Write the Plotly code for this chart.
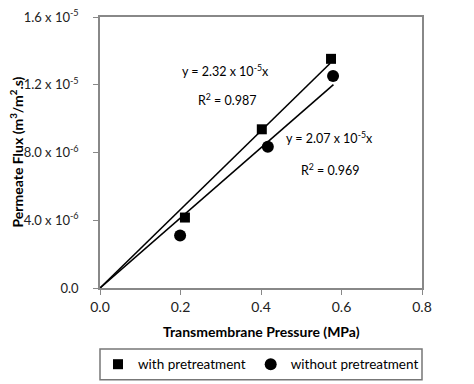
import plotly.graph_objects as go

# Data
with_x = [0.211, 0.402, 0.574]
with_y = [4.16e-6, 9.37e-6, 13.53e-6]
without_x = [0.199, 0.417, 0.579]
without_y = [3.10e-6, 8.34e-6, 12.51e-6]

slope_with = 2.32e-5
slope_without = 2.07e-5
fit_with_x = [0.0, 0.572]
fit_without_x = [0.0, 0.580]

x_ticks = [0.0, 0.2, 0.4, 0.6, 0.8]
x_ticktext = ["0.0", "0.2", "0.4", "0.6", "0.8"]
y_ticks = [0.0, 4.0e-6, 8.0e-6, 1.2e-5, 1.6e-5]
y_ticktext = ["0.0", "4.0 x 10<sup>-6</sup>", "8.0 x 10<sup>-6</sup>",
              "1.2 x 10<sup>-5</sup>", "1.6 x 10<sup>-5</sup>"]

FONT = "Lato, 'Open Sans', sans-serif"

fig = go.Figure()

fig.add_trace(go.Scatter(
    x=fit_with_x, y=[slope_with * v for v in fit_with_x], mode="lines",
    line=dict(color="black", width=1.6), showlegend=False, hoverinfo="skip"))
fig.add_trace(go.Scatter(
    x=fit_without_x, y=[slope_without * v for v in fit_without_x], mode="lines",
    line=dict(color="black", width=1.6), showlegend=False, hoverinfo="skip"))

fig.add_trace(go.Scatter(
    x=with_x, y=with_y, mode="markers", name="with pretreatment",
    marker=dict(symbol="square", size=10, color="black")))
fig.add_trace(go.Scatter(
    x=without_x, y=without_y, mode="markers", name="without pretreatment",
    marker=dict(symbol="circle", size=12, color="black")))

ann_font = dict(family=FONT, size=12.5, color="black")
fig.add_annotation(x=0.313, y=12.86e-6, text="y = 2.32 x 10<sup>-5</sup>x",
                   showarrow=False, font=ann_font)
fig.add_annotation(x=0.316, y=11.1e-6, text="R<sup>2</sup> = 0.987",
                   showarrow=False, font=ann_font)
fig.add_annotation(x=0.570, y=8.86e-6, text="y = 2.07 x 10<sup>-5</sup>x",
                   showarrow=False, font=ann_font)
fig.add_annotation(x=0.572, y=6.97e-6, text="R<sup>2</sup> = 0.969",
                   showarrow=False, font=ann_font)

# axis titles
title_font = dict(family=FONT, size=14, color="black")
fig.add_annotation(xref="paper", yref="paper", x=0.5, y=0, yanchor="middle",
                   yshift=-43, showarrow=False, font=title_font,
                   text="<b>Transmembrane Pressure (MPa)</b>")
fig.add_annotation(xref="paper", yref="paper", x=0, y=0.5, xanchor="center",
                   xshift=-83, textangle=-90, showarrow=False, font=title_font,
                   text="<b>Permeate Flux (m<sup>3</sup>/m<sup>2</sup>.s)</b>")

# legend frame spanning the plot width
fig.add_shape(type="rect", xref="paper", yref="paper",
              x0=0, x1=1, y0=-0.339, y1=-0.225,
              line=dict(color="#777777", width=1.5), fillcolor="rgba(0,0,0,0)")

fig.update_xaxes(
    range=[0, 0.8], tickvals=x_ticks, ticktext=x_ticktext,
    showgrid=False, zeroline=False, showline=True, linecolor="#888888",
    linewidth=1.5, mirror=True, ticks="outside", ticklen=5, tickcolor="#888888",
    ticklabeloverflow="allow",
    tickfont=dict(family=FONT, size=14, color="#222"))
fig.update_yaxes(
    range=[0, 1.6e-5], tickvals=y_ticks, ticktext=y_ticktext,
    showgrid=False, zeroline=False, showline=True, linecolor="#888888",
    linewidth=1.5, mirror=True, ticks="outside", ticklen=5, tickcolor="#888888",
    ticklabelstandoff=12, ticklabeloverflow="allow",
    tickfont=dict(family=FONT, size=13, color="#222"))

fig.update_layout(
    width=466, height=376,
    margin=dict(l=92, r=52, t=9, b=96, autoexpand=False),
    paper_bgcolor="white", plot_bgcolor="white",
    font=dict(family=FONT, color="black"),
    legend=dict(orientation="h", x=0.5, xanchor="center", y=-0.282, yanchor="middle",
                borderwidth=0, bgcolor="rgba(0,0,0,0)",
                font=dict(family=FONT, size=13.5, color="black"),
                itemwidth=30),
)

fig.write_html("out.html")
